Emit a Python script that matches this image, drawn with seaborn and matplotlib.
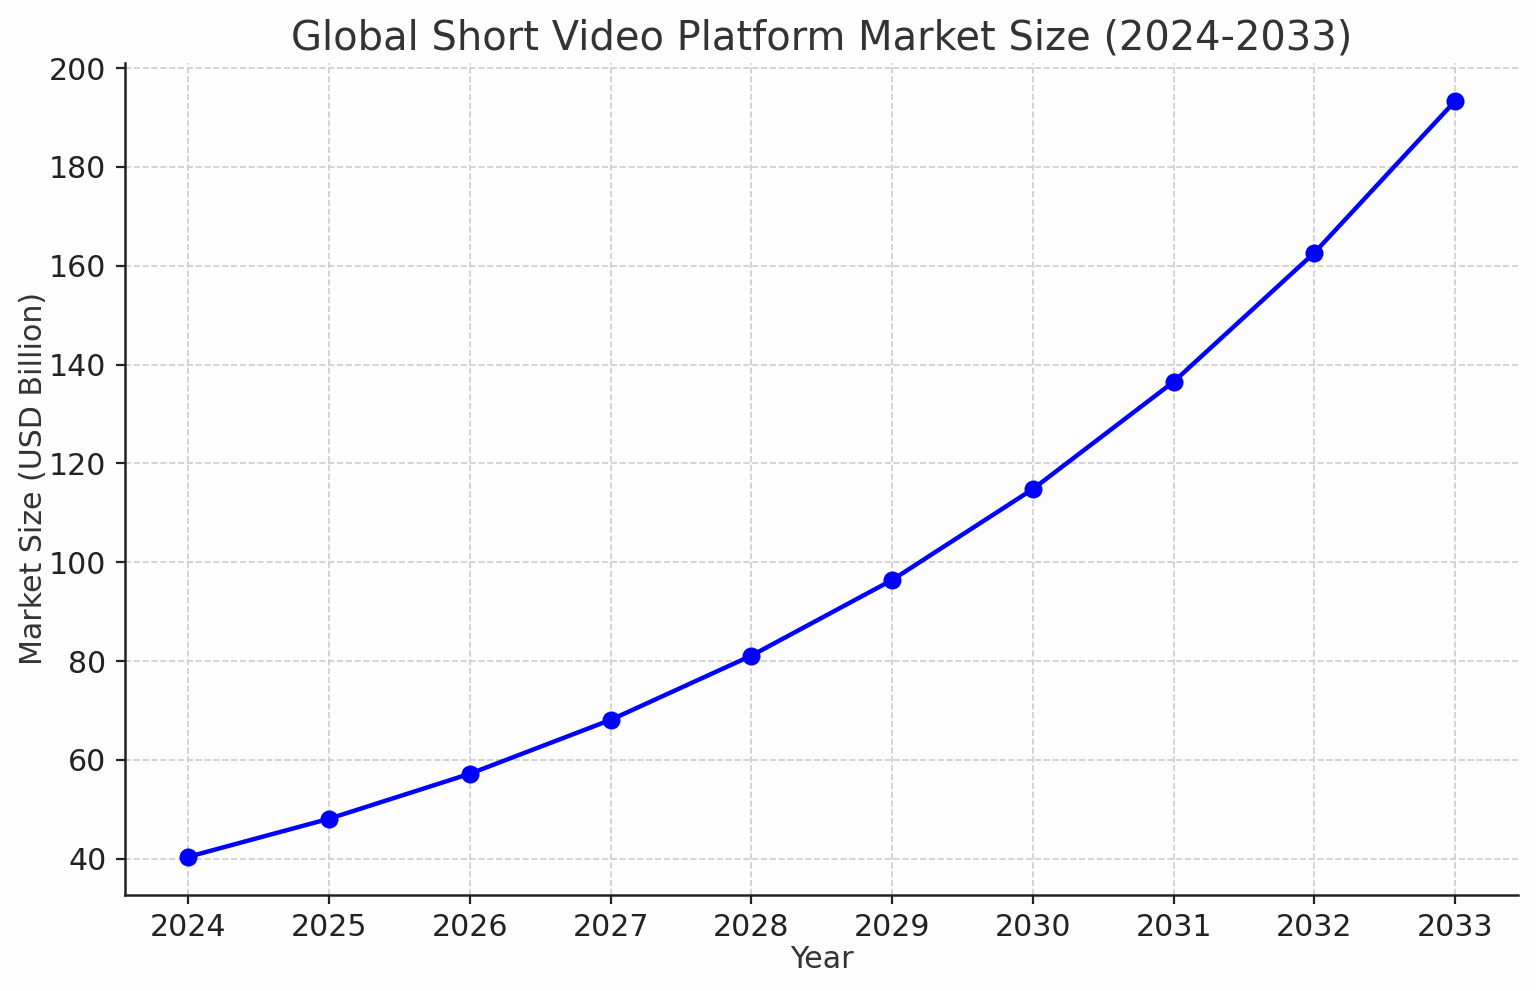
import seaborn as sns
import matplotlib.pyplot as plt
import pandas as pd

# Data
years = [2024, 2025, 2026, 2027, 2028, 2029, 2030, 2031, 2032, 2033]
market_size = [40.4, 48.1, 57.2, 68.1, 81.1, 96.4, 114.8, 136.5, 162.6, 193.3]
y_ticks = [40, 60, 80, 100, 120, 140, 160, 180, 200]

df = pd.DataFrame({"Year": years, "Market Size": market_size})

sns.set_style("ticks")
plt.rcParams["font.family"] = ["DejaVu Sans"]

fig, ax = plt.subplots(figsize=(7.68, 4.955), dpi=200)
fig.patch.set_facecolor("#fdfdfd")
ax.set_facecolor("#fdfdfd")
fig.subplots_adjust(left=0.0814, right=0.9885, top=0.936, bottom=0.0973)

sns.lineplot(data=df, x="Year", y="Market Size", marker="o", color="blue",
             linewidth=1.6, markersize=6.5, markeredgewidth=0, ax=ax)

ax.grid(True, linestyle="--", color="#cccccc", linewidth=0.6)
ax.set_axisbelow(True)
ax.set_xticks(years)
ax.set_yticks(y_ticks)
ax.tick_params(labelsize=10.8, colors="#222222", length=3.2, width=0.8)
for side in ["top", "right"]:
    ax.spines[side].set_visible(False)
for side in ["left", "bottom"]:
    ax.spines[side].set_color("#222222")
    ax.spines[side].set_linewidth(0.9)

ax.set_title("Global Short Video Platform Market Size (2024-2033)",
             fontsize=14.4, color="#333333", pad=5)
ax.set_xlabel("Year", fontsize=10.8, color="#333333", labelpad=1)
ax.set_ylabel("Market Size (USD Billion)", fontsize=10.8, color="#333333",
              labelpad=0.5)

fig.savefig("out.png", dpi=200)
